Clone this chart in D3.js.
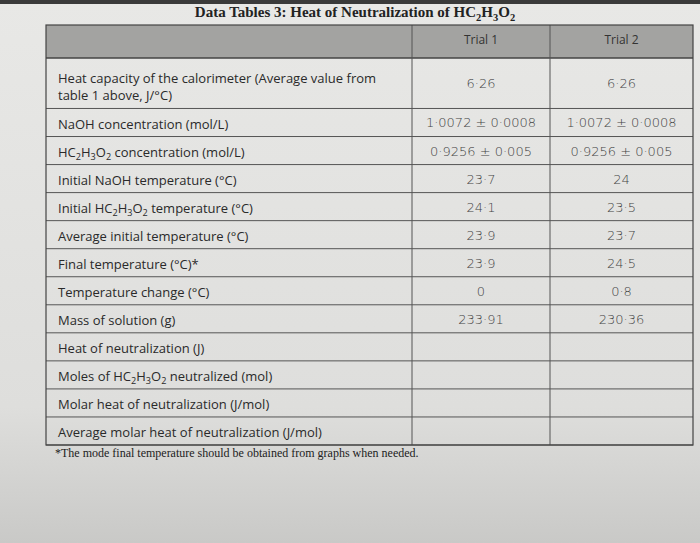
<!DOCTYPE html>
<html><head><meta charset="utf-8">
<script src="https://cdn.jsdelivr.net/npm/d3@7"></script>
<style>
body{margin:0;background:#d9d9d7;}
svg{display:block;}
</style></head>
<body><svg id="c" width="700" height="543"></svg>
<script>
const title = 'Data Tables 3: Heat of Neutralization of HC_2H_3O_2';
const columns = ['Trial 1', 'Trial 2'];
const rowLabels = [
  ['Heat capacity of the calorimeter (Average value from', 'table 1 above, J/°C)'],
  ['NaOH concentration (mol/L)'],
  ['HC_2H_3O_2 concentration (mol/L)'],
  ['Initial NaOH temperature (°C)'],
  ['Initial HC_2H_3O_2 temperature (°C)'],
  ['Average initial temperature (°C)'],
  ['Final temperature (°C)*'],
  ['Temperature change (°C)'],
  ['Mass of solution (g)'],
  ['Heat of neutralization (J)'],
  ['Moles of HC_2H_3O_2 neutralized (mol)'],
  ['Molar heat of neutralization (J/mol)'],
  ['Average molar heat of neutralization (J/mol)']
];
const trial1 = ['6·26', '1·0072 ± 0·0008', '0·9256 ± 0·005', '23·7', '24·1', '23·9', '23·9', '0', '233·91', '', '', '', ''];
const trial2 = ['6·26', '1·0072 ± 0·0008', '0·9256 ± 0·005', '24', '23·5', '23·7', '24·5', '0·8', '230·36', '', '', '', ''];
const footnote = '*The mode final temperature should be obtained from graphs when needed.';

const svg = d3.select('#c');
const defs = svg.append('defs');
const grad = defs.append('linearGradient').attr('id', 'bg').attr('x1', 0).attr('y1', 0).attr('x2', 0).attr('y2', 1);
grad.append('stop').attr('offset', '0%').attr('stop-color', '#e8e8e6');
grad.append('stop').attr('offset', '75%').attr('stop-color', '#dededc');
grad.append('stop').attr('offset', '100%').attr('stop-color', '#c9c9c7');
svg.append('rect').attr('width', 700).attr('height', 543).attr('fill', 'url(#bg)');
svg.append('rect').attr('width', 700).attr('height', 4).attr('fill', '#3a3a3a');

// "_n" in a string becomes a subscript
function rich(sel, s, size) {
  let sub = false;
  s.split(/(_\d)/).forEach(p => {
    if (!p) return;
    if (p[0] === '_') {
      sel.append('tspan').attr('dy', sub ? 0 : size * 0.25).attr('font-size', size * 0.7).text(p[1]);
      sub = true;
    } else {
      sel.append('tspan').attr('dy', sub ? -size * 0.25 : 0).attr('font-size', size).text(p);
      sub = false;
    }
  });
}

const left = 46, right = 693, tableTop = 25, tableBottom = 445;
const x = d3.scaleOrdinal().domain(['label', ...columns]).range([left, 412, 550]);
const colEnd = { label: 412, 'Trial 1': 550, 'Trial 2': right };

const units = rowLabels.map(l => l.length === 2 ? 1.8 : 1);
const cum = [0]; units.forEach(u => cum.push(cum[cum.length - 1] + u));
const headerH = 33;
const y = d3.scaleLinear().domain([0, cum[cum.length - 1]]).range([tableTop + headerH, tableBottom]);

svg.append('text').attr('x', 355).attr('y', 17).attr('text-anchor', 'middle')
  .attr('font-family', 'Liberation Serif').attr('font-weight', 'bold').attr('fill', '#222')
  .call(s => rich(s, title, 15));

const g = svg.append('g');
g.append('rect').attr('x', left).attr('y', tableTop).attr('width', right - left).attr('height', headerH)
  .attr('fill', '#a3a3a1');
g.selectAll('text.h').data(columns).join('text').attr('class', 'h')
  .attr('x', d => (x(d) + colEnd[d]) / 2).attr('y', tableTop + 19).attr('text-anchor', 'middle')
  .attr('font-family', 'Open Sans').attr('font-size', 12).attr('fill', '#333').text(d => d);

const rows = g.selectAll('g.r').data(rowLabels).join('g').attr('class', 'r');
rows.append('line').attr('x1', left).attr('x2', right)
  .attr('y1', (d, i) => y(cum[i + 1])).attr('y2', (d, i) => y(cum[i + 1]))
  .attr('stroke', '#555').attr('stroke-width', 1);
rows.each(function (lines, i) {
  const yb = y(cum[i + 1]);
  lines.forEach((l, k) => {
    d3.select(this).append('text').attr('x', left + 12)
      .attr('y', yb - 8 - (lines.length - 1 - k) * 17)
      .attr('font-family', 'Open Sans').attr('fill', '#2a2a2a')
      .call(s => rich(s, l, 13));
  });
  [trial1[i], trial2[i]].forEach((v, j) => {
    const c = columns[j];
    d3.select(this).append('text')
      .attr('x', (x(c) + colEnd[c]) / 2).attr('y', y(cum[i]) + (lines.length === 2 ? 30 : 19))
      .attr('text-anchor', 'middle').attr('font-family', 'DejaVu Sans').attr('font-weight', 300)
      .attr('font-size', 13).attr('fill', '#444').text(v);
  });
});

g.append('line').attr('x1', left).attr('x2', right).attr('y1', tableTop + headerH).attr('y2', tableTop + headerH)
  .attr('stroke', '#444').attr('stroke-width', 1.5);
columns.forEach(c => g.append('line').attr('x1', x(c)).attr('x2', x(c))
  .attr('y1', tableTop).attr('y2', tableBottom).attr('stroke', '#555'));
g.append('rect').attr('x', left).attr('y', tableTop).attr('width', right - left).attr('height', tableBottom - tableTop)
  .attr('fill', 'none').attr('stroke', '#444').attr('stroke-width', 1.2);

svg.append('text').attr('x', 55).attr('y', 457).attr('font-family', 'Liberation Serif')
  .attr('font-size', 12).attr('fill', '#222').text(footnote);
</script></body></html>
